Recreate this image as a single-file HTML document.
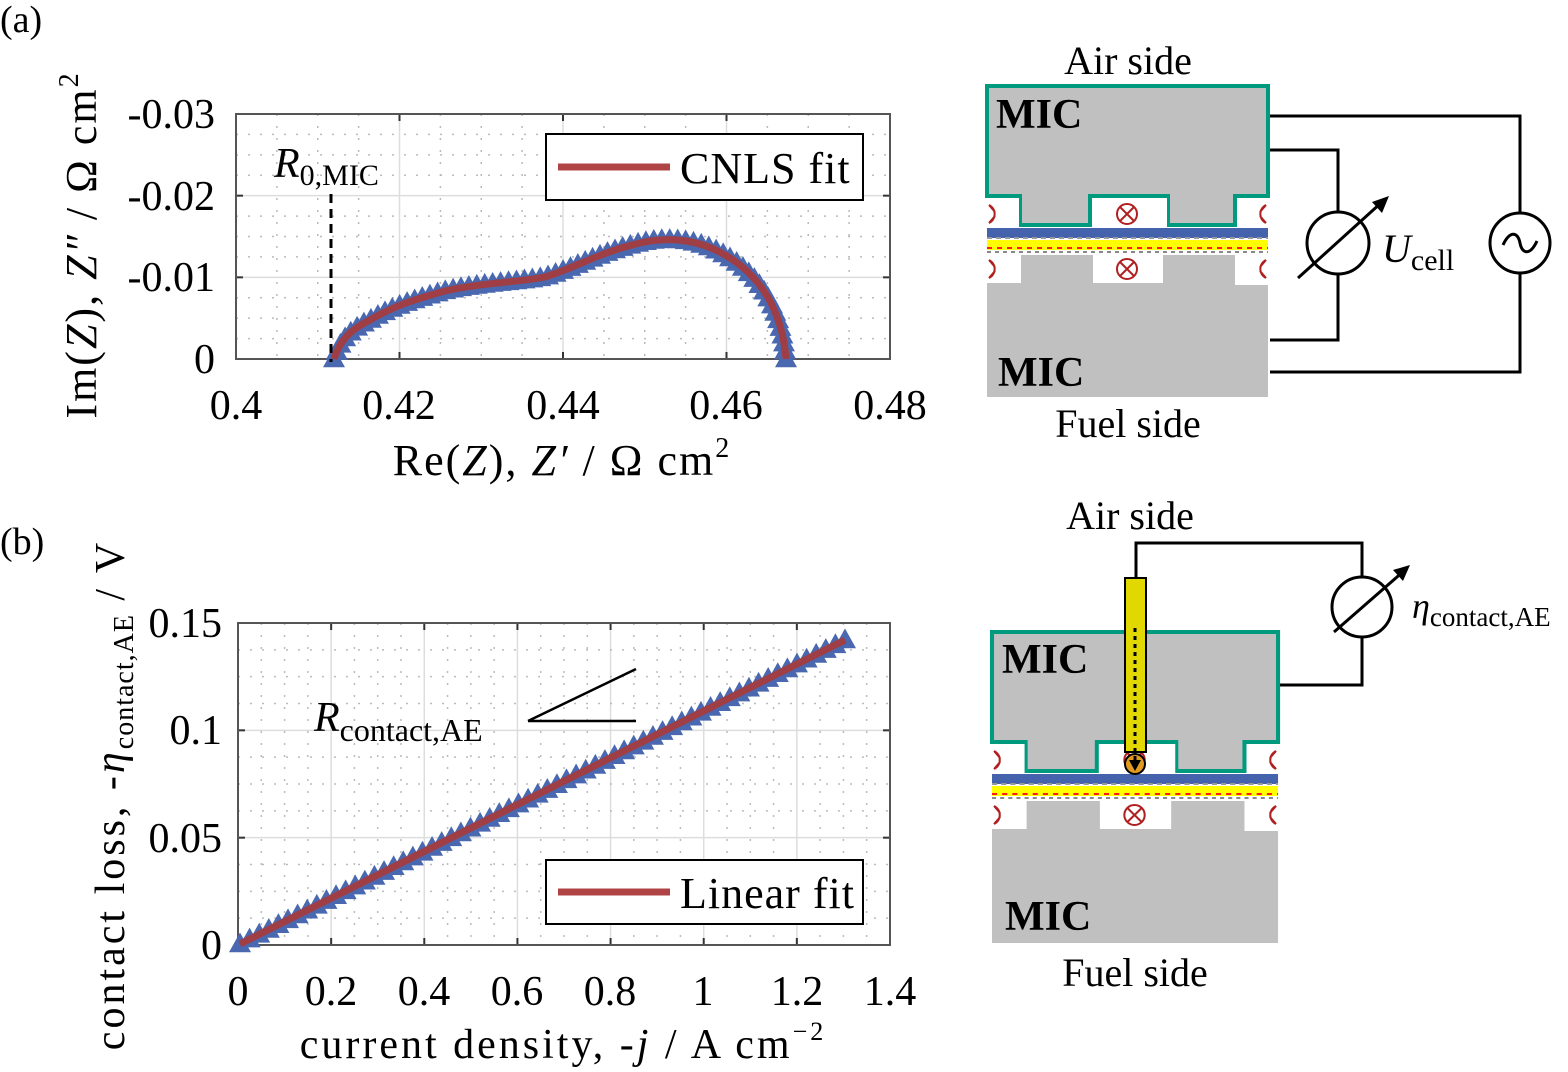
<!DOCTYPE html>
<html><head><meta charset="utf-8"><style>
html,body{margin:0;padding:0;background:#fff}
svg{display:block}
text{font-family:"Liberation Serif",serif;fill:#000}
</style></head><body>
<svg id="s" width="1568" height="1072" viewBox="0 0 1568 1072" xmlns="http://www.w3.org/2000/svg">
<defs>
<g id="cell">
  <path d="M0,0 H281 V110 H248 V139 H181 V110 H103 V139 H33 V110 H0 Z" fill="#c0c0c0" stroke="#009a7e" stroke-width="4"/>
  <rect x="0" y="112" width="32" height="30" fill="#fff"/>
  <rect x="105" y="112" width="75" height="30" fill="#fff"/>
  <rect x="250" y="112" width="31" height="30" fill="#fff"/>
  <rect x="0" y="142" width="281" height="10" fill="#4563ad"/>
  <line x1="0" y1="152" x2="281" y2="152" stroke="#999" stroke-width="2" stroke-dasharray="5,4"/>
  <rect x="0" y="154" width="281" height="10" fill="#ffff00"/>
  <line x1="0" y1="162" x2="281" y2="162" stroke="#ff1a1a" stroke-width="2" stroke-dasharray="5,5"/>
  <line x1="0" y1="166" x2="281" y2="166" stroke="#888" stroke-width="2" stroke-dasharray="4,4"/>
  <rect x="0" y="169" width="281" height="142" fill="#c0c0c0"/>
  <rect x="0" y="169" width="34" height="28" fill="#fff"/>
  <rect x="106" y="169" width="70" height="28" fill="#fff"/>
  <rect x="248" y="169" width="33" height="30" fill="#fff"/>
  <g fill="none" stroke="#b02020" stroke-width="2">
    <circle cx="140" cy="128" r="10"/><path d="M133,121 L147,135 M147,121 L133,135"/>
    <circle cx="140" cy="183" r="10"/><path d="M133,176 L147,190 M147,176 L133,190"/>
    <path d="M2,119 A10,10 0 0 1 2,137 M2,119 L8,126 M2,137 L8,130"/>
    <path d="M2,174 A10,10 0 0 1 2,192 M2,174 L8,181 M2,192 L8,185"/>
    <path d="M279,119 A10,10 0 0 0 279,137 M279,119 L273,126 M279,137 L273,130"/>
    <path d="M279,174 A10,10 0 0 0 279,192 M279,174 L273,181 M279,192 L273,185"/>
  </g>
</g>
</defs>
<text x="0" y="32" font-size="38">(a)</text>
<text x="0" y="554" font-size="38">(b)</text>

<g id="ga"></g>
<g id="gb"></g>

<!-- plot a labels -->
<g font-size="42" text-anchor="end" fill="#222">
<text x="215" y="128">-0.03</text><text x="215" y="210">-0.02</text><text x="215" y="291">-0.01</text><text x="215" y="373">0</text>
</g>
<g font-size="42" text-anchor="middle">
<text x="236" y="419">0.4</text><text x="399" y="419">0.42</text><text x="563" y="419">0.44</text><text x="726" y="419">0.46</text><text x="890" y="419">0.48</text>
</g>
<text x="562" y="475" font-size="44" letter-spacing="2" text-anchor="middle" fill="#333">Re(<tspan font-style="italic">Z</tspan>),  <tspan font-style="italic">Z′</tspan>  /  Ω cm<tspan font-size="28" dy="-18">2</tspan></text>
<text transform="translate(96,245) rotate(-90)" font-size="44" letter-spacing="2" text-anchor="middle" fill="#333">Im(<tspan font-style="italic">Z</tspan>),  <tspan font-style="italic">Z″</tspan>  /  Ω cm<tspan font-size="28" dy="-18">2</tspan></text>
<text x="274" y="177" font-size="42" font-style="italic">R<tspan font-style="normal" font-size="30" dy="8">0,MIC</tspan></text>
<line x1="331" y1="194" x2="331" y2="362" stroke="#000" stroke-width="3" stroke-dasharray="9,6"/>
<rect x="546" y="134" width="317" height="66" fill="#fff" stroke="#000" stroke-width="2"/>
<line x1="558" y1="167" x2="670" y2="167" stroke="#b04444" stroke-width="7"/>
<text x="680" y="183" font-size="44" letter-spacing="1">CNLS fit</text>

<!-- plot b labels -->
<g font-size="42" text-anchor="end" fill="#222">
<text x="222" y="637">0.15</text><text x="222" y="744">0.1</text><text x="222" y="852">0.05</text><text x="222" y="959">0</text>
</g>
<g font-size="42" text-anchor="middle">
<text x="238" y="1005">0</text><text x="331" y="1005">0.2</text><text x="424" y="1005">0.4</text><text x="517" y="1005">0.6</text><text x="610" y="1005">0.8</text><text x="703" y="1005">1</text><text x="797" y="1005">1.2</text><text x="890" y="1005">1.4</text>
</g>
<text x="563" y="1058" font-size="42" letter-spacing="3" text-anchor="middle" fill="#333">current density, -<tspan font-style="italic">j</tspan>  /  A cm<tspan font-size="26" dy="-18">−2</tspan></text>
<text transform="translate(124,795) rotate(-90)" font-size="42" letter-spacing="3" text-anchor="middle" fill="#333">contact loss, -<tspan font-style="italic">η</tspan><tspan font-size="28" dy="9" letter-spacing="1">contact,AE</tspan><tspan dy="-9">  /  V</tspan></text>
<text x="314" y="731" font-size="42" font-style="italic">R<tspan font-style="normal" font-size="32" dy="10">contact,AE</tspan></text>
<path d="M528,721 L636,669 M528,721 L636,721" stroke="#000" stroke-width="2.5" fill="none"/>
<rect x="546" y="860" width="317" height="64" fill="#fff" stroke="#000" stroke-width="2"/>
<line x1="558" y1="892" x2="670" y2="892" stroke="#b04444" stroke-width="7"/>
<text x="680" y="908" font-size="44" letter-spacing="1">Linear fit</text>

<!-- schematic a -->
<use href="#cell" transform="translate(987,86)"/>
<text x="1128" y="74" font-size="40" text-anchor="middle">Air side</text>
<text x="1128" y="437" font-size="40" text-anchor="middle">Fuel side</text>
<text x="996" y="128" font-size="42" font-weight="bold">MIC</text>
<text x="998" y="386" font-size="42" font-weight="bold">MIC</text>
<g stroke="#000" stroke-width="3" fill="none">
<path d="M1270,116 H1520 V212 M1520,274 V372 H1270"/>
<path d="M1270,150 H1338 V212 M1338,274 V340 H1270"/>
<circle cx="1338" cy="243" r="31"/><circle cx="1520" cy="243" r="30"/>
<path d="M1298,278 L1382,202"/>
<path d="M1503,245 C1510,230 1518,232 1520,243 C1522,254 1530,256 1537,241"/>
</g>
<path d="M1389,196 L1372,202 L1382,213 Z" fill="#000"/>
<text x="1382" y="262" font-size="40" font-style="italic">U<tspan font-style="normal" font-size="30" dy="8">cell</tspan></text>

<!-- schematic b -->
<use href="#cell" transform="translate(992,632) scale(1.018,1.0)"/>
<text x="1130" y="529" font-size="40" text-anchor="middle">Air side</text>
<text x="1135" y="986" font-size="40" text-anchor="middle">Fuel side</text>
<text x="1002" y="673" font-size="42" font-weight="bold">MIC</text>
<text x="1005" y="930" font-size="42" font-weight="bold">MIC</text>
<g stroke="#000" stroke-width="3" fill="none">
<path d="M1136,578 V543 H1362 V577 M1362,637 V685 H1280"/>
<circle cx="1362" cy="607" r="30"/>
<path d="M1334,632 L1405,570"/>
</g>
<path d="M1410,565 L1393,570 L1403,581 Z" fill="#000"/>
<rect x="1125" y="578" width="21" height="174" fill="#e0d800" stroke="#000" stroke-width="2"/>
<circle cx="1135" cy="764" r="10" fill="#e09a20" stroke="#000" stroke-width="2"/>
<line x1="1135" y1="628" x2="1135" y2="762" stroke="#000" stroke-width="3" stroke-dasharray="4,4"/>
<path d="M1129,760 L1141,760 L1135,771 Z" fill="#000"/>
<text x="1412" y="618" font-size="36" font-style="italic">η<tspan font-style="normal" font-size="27" dy="8">contact,AE</tspan></text>
</svg>
<script>
var NS="http://www.w3.org/2000/svg";
function el(p,t,a){var e=document.createElementNS(NS,t);for(var k in a)e.setAttribute(k,a[k]);p.appendChild(e);return e;}
function plot(g,L,T,R,B,xn,yn,sub){
  el(g,"rect",{x:L,y:T,width:R-L,height:B-T,fill:"#fff"});
  for(var i=0;i<=xn*sub;i++){var x=L+(R-L)*i/(xn*sub);
    el(g,"line",i%sub?{x1:x,y1:T,x2:x,y2:B,stroke:"#bbb","stroke-width":1.5,"stroke-dasharray":"2,10"}:{x1:x,y1:T,x2:x,y2:B,stroke:"#ddd","stroke-width":1.5});}
  for(var j=0;j<=yn*sub;j++){var y=T+(B-T)*j/(yn*sub);
    el(g,"line",j%sub?{x1:L,y1:y,x2:R,y2:y,stroke:"#bbb","stroke-width":1.5,"stroke-dasharray":"2,10"}:{x1:L,y1:y,x2:R,y2:y,stroke:"#ddd","stroke-width":1.5});}
  for(var i=0;i<=xn;i++){var x=L+(R-L)*i/xn;el(g,"line",{x1:x,y1:B,x2:x,y2:B-7,stroke:"#333","stroke-width":2});el(g,"line",{x1:x,y1:T,x2:x,y2:T+7,stroke:"#333","stroke-width":2});}
  for(var j=0;j<=yn;j++){var y=T+(B-T)*j/yn;el(g,"line",{x1:L,y1:y,x2:L+7,y2:y,stroke:"#333","stroke-width":2});el(g,"line",{x1:R,y1:y,x2:R-7,y2:y,stroke:"#333","stroke-width":2});}
  el(g,"rect",{x:L,y:T,width:R-L,height:B-T,fill:"none",stroke:"#555","stroke-width":2});
}
function series(g,d,n,sz){
  var p=el(g,"path",{d:d,fill:"none",stroke:"none"});var len=p.getTotalLength();
  for(var i=0;i<n;i++){var pt=p.getPointAtLength(len*i/(n-1));
    el(g,"path",{d:"M"+(pt.x-sz)+","+(pt.y+sz*0.75)+" L"+(pt.x+sz)+","+(pt.y+sz*0.75)+" L"+pt.x+","+(pt.y-sz*1.05)+"Z",fill:"#4a68b0"});}
  el(g,"path",{d:d,fill:"none",stroke:"#a83a3a","stroke-width":7,"stroke-opacity":0.9});
}
var ga=document.getElementById("ga"),gb=document.getElementById("gb");
plot(ga,236,114,890,359,4,3,4);
series(ga,"M334,359 C340,340 350,330 370,320 C395,305 420,298 445,291 C480,283 520,282 545,277 C575,268 600,252 640,243 C670,236 700,240 725,255 C760,275 782,310 786,359",70,11);
plot(gb,238,623,890,945,7,3,4);
series(gb,"M240,944 L845,640",64,11);
</script>
</body></html>
